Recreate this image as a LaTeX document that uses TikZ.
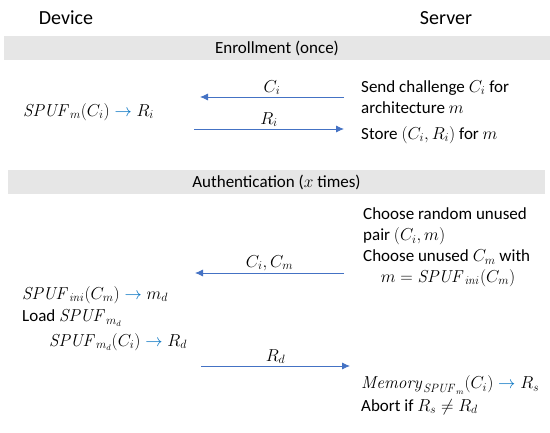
\documentclass[tikz,border=0pt]{standalone}
\usepackage[no-math]{fontspec}
\setmainfont{Carlito}
\usepackage{tikz}
\usetikzlibrary{arrows.meta,positioning}
\definecolor{msgblue}{RGB}{68,114,196}
\definecolor{mapblue}{RGB}{0,112,192}
\definecolor{bargray}{RGB}{230,230,230}
\newcommand{\mapsarrow}{\mathrel{\textcolor{mapblue}{\rightarrow}}}
\tikzset{
    msg/.style  = {-{Latex[length=8pt,width=7pt]}, draw=msgblue, line width=0.8pt},
    lbl/.style  = {above, font=\fontsize{17}{21}\selectfont, inner sep=2pt},
    txt/.style  = {anchor=west, inner sep=0pt, align=left,
            font=\fontsize{17}{21}\selectfont},
    head/.style = {inner sep=0pt, font=\fontsize{20}{24}\selectfont},
    bar/.style  = {fill=bargray, draw=none, minimum height=24pt,
            inner sep=0pt, font=\fontsize{17}{21}\selectfont},
}
\begin{document}
\begin{tikzpicture}[x=1pt,y=-1pt]
            \useasboundingbox (0,0) rectangle (550,432);
            % Headers
            \node[head] (device) at (66,18) {Device};
            \node[head] (server) at (446,18) {Server};

            % Enrollment
            \node[bar, minimum width=546pt] (enroll) at (277,48) {Enrollment (once)};
            \node[txt] (spufm) at (23,112) {$\mathit{SPUF}_m(C_i) \mapsarrow R_i$};
            \node[txt] (send)  at (361,97) {Send challenge $C_i$ for\\architecture $m$};
            \node[txt] (store) at (361,135) {Store $(C_i,R_i)$ for $m$};
            \coordinate (ci-srv) at (344,97);
            \coordinate (ci-dev) at (200,97);
            \coordinate (ri-dev) at (194,129);
            \coordinate (ri-srv) at (344,129);
            \draw[msg] (ci-srv) -- node[lbl]{$C_i$} (ci-dev);
            \draw[msg] (ri-dev) -- node[lbl]{$R_i$} (ri-srv);

            % Authentication
            \node[bar, minimum width=537pt] (auth) at (276.5,182) {Authentication ($x$ times)};
            \node[txt] (choose) at (363,236) {Choose random unused\\pair $(C_i,m)$\\Choose unused $C_m$ with};
            \node[txt, anchor=center] (cond) at (448,278) {$m = \mathit{SPUF}_{\mathit{ini}}(C_m)$};
            \node[txt] (spufini) at (22,295) {$\mathit{SPUF}_{\mathit{ini}}(C_m) \mapsarrow m_d$};
            \node[txt] (load)    at (22,318) {Load $\mathit{SPUF}_{m_d}$};
            \node[txt] (spufmd)  at (49,342) {$\mathit{SPUF}_{m_d}(C_i) \mapsarrow R_d$};
            \node[txt] (memory)  at (361,385) {$\mathit{Memory}_{\mathit{SPUF}_m}(C_i) \mapsarrow R_s$};
            \node[txt] (abort)   at (361,407) {Abort if $R_s \neq R_d$};
            \coordinate (cc-srv) at (344,273);
            \coordinate (cc-dev) at (195,273);
            \coordinate (rd-dev) at (201,366);
            \coordinate (rd-srv) at (350,366);
            \draw[msg] (cc-srv) -- node[lbl]{$C_i, C_m$} (cc-dev);
            \draw[msg] (rd-dev) -- node[lbl]{$R_d$} (rd-srv);
\end{tikzpicture}
\end{document}
